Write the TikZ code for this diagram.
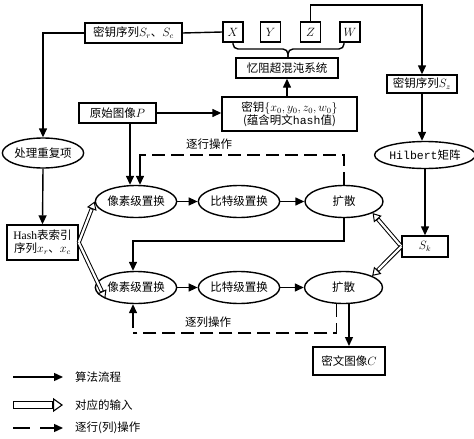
\documentclass[tikz,border=0pt]{standalone}
\usepackage{fontspec}
\setmainfont{Liberation Serif}
\setmonofont{Liberation Mono}
\newfontfamily\cjk{Noto Sans CJK SC}
\usetikzlibrary{arrows.meta,shapes.geometric}
\begin{document}
\begin{tikzpicture}[x=1pt,y=-1pt,
  every node/.style={font=\cjk\fontsize{11.5}{13}\selectfont, inner sep=1pt},
  box/.style={draw, line width=1.4pt, inner xsep=3pt, minimum height=20pt},
  sq/.style={box, minimum width=20pt, minimum height=20pt, inner sep=0pt},
  ell/.style={draw, ellipse, line width=1.4pt, minimum width=78pt, minimum height=32pt, inner sep=0pt},
  ln/.style={line width=1.4pt},
  arr/.style={ln, -{Triangle[length=9pt,width=8pt]}},
  dsh/.style={ln, dash pattern=on 13pt off 6pt},
  hol/.style={line width=4.2pt, -{Triangle[length=8pt, width=10pt, fill=white, line width=1pt]},
    postaction={draw=white, line width=2.2pt, -, shorten >=8.6pt, shorten <=0pt}},
  holbig/.style={line width=7.5pt, -{Triangle[length=10pt, width=14pt, fill=white, line width=1.1pt]},
    postaction={draw=white, line width=5.3pt, -, shorten >=10.6pt, shorten <=1.1pt}},
]
\useasboundingbox (0,0) rectangle (474,439);

% top row
\node[box, minimum width=97pt] (Sr) at (133.5,33) {密钥序列$S_r$、$S_c$};
\node[sq] (X) at (233,32) {$X$};
\node[sq] (Y) at (270.5,32) {$Y$};
\node[sq] (Z) at (310.5,32) {$Z$};
\node[sq] (W) at (350,32) {$W$};
\node[box, minimum width=102pt] (chaos) at (287,68) {忆阻超混沌系统};
\node[box, align=center, minimum width=135pt, minimum height=34pt] (key) at (289.5,114) {密钥$\{x_0,y_0,z_0,w_0\}$\\(蕴含明文{\ttfamily hash}值)};
\node[box, minimum width=77pt] (P) at (117.5,113) {原始图像$P$};
\node[box, minimum width=70pt, minimum height=18pt] (Sz) at (422,84) {密钥序列$S_z$};
\node[ell, minimum width=86pt, minimum height=27pt] (H) at (425,155) {{\ttfamily Hilbert}矩阵};
\node[box, minimum width=46pt, minimum height=21pt] (Sk) at (425,246.5) {$S_k$};
\node[ell, minimum width=77pt, minimum height=30pt] (proc) at (43,153) {处理重复项};
\node[box, align=center, minimum width=71pt, minimum height=35pt] (hash) at (42.5,242.5) {{\rmfamily Hash}表索引\\序列$x_r$、$x_c$};

% process rows
\node[ell] (p1) at (136,201.5) {像素级置换};
\node[ell] (b1) at (239,201.5) {比特级置换};
\node[ell] (e1) at (344,201.5) {扩散};
\node[ell] (p2) at (136,287.5) {像素级置换};
\node[ell] (b2) at (239,287.5) {比特级置换};
\node[ell] (e2) at (343.5,287.5) {扩散};
\node[box, line width=2pt, minimum width=72pt, minimum height=28pt] (C) at (349,361) {密文图像$C$};

\node (lr) at (209,144) {逐行操作};
\node (lc) at (208,322) {逐列操作};

% top connectors
\draw[ln] (Sr.east) -- (X.west);
\draw[arr] (Sr.west) -| (proc.north);
\draw[arr] (proc.south) -- (hash.north);
\coordinate (bm) at (288,49);
\draw[ln, rounded corners=5pt] (X.south) |- (bm) -- (bm |- chaos.north);
\draw[ln, rounded corners=5pt] ([xshift=-6pt]W.south) |- (bm) -- (bm |- chaos.north);
\draw[arr] (key.north -| chaos.south) -- (chaos.south);
\draw[arr] (P.east) -- (P.east -| key.west);
\coordinate (zc) at (422,5);
\draw[arr] (Z.north) |- (zc) -- (Sz.north);
\draw[arr] (Sz.south) -- (Sz.south |- H.north);
\draw[arr] (H.south) -- (Sk.north);

% rows
\draw[arr] ([xshift=12.5pt]P.south) -- ([xshift=12.5pt]P.south |- p1.north);
\draw[arr] (p1.east) -- (b1.west);
\draw[arr] (b1.east) -- (e1.west);
\draw[arr] (p2.east) -- (b2.west);
\draw[arr] (b2.east) -- (e2.west);

\coordinate (d1) at (140,155);
\coordinate (d1e) at (140,161);
\draw[dsh] (e1.north) |- (d1) -- (d1e);
\draw[arr] (d1e) -- (d1e |- p1.north);

\coordinate (m1) at (133,241);
\draw[arr] (e1.south) |- (m1) -- (m1 |- p2.north);

\coordinate (c2) at (133,333);
\coordinate (c2s) at (133,328);
\draw[dsh] ([xshift=-7pt]e2.south) |- (c2);
\draw[arr] (c2s) -- (c2s |- p2.south);
\draw[arr] (e2.south -| C.north) -- (C.north);

% hollow inputs
\draw[hol] (hash.east) -- (p1.west);
\draw[hol] (hash.east) -- (p2.200);
\draw[hol] (Sk.west) -- (e1.-22);
\draw[hol] (Sk.west) -- (e2.22);

% legend
\coordinate (la1) at (13,377); \coordinate (la2) at (63,377);
\draw[arr] (la1) -- (la2);
\node[anchor=west] (lt1) at (74,377) {算法流程};
\coordinate (lb1) at (13,405); \coordinate (lb2) at (63,405);
\draw[holbig] (lb1) -- (lb2);
\node[anchor=west] (lt2) at (74,405) {对应的输入};
\coordinate (lc1) at (13,428); \coordinate (lc2) at (30,428);
\coordinate (lc3) at (40,428); \coordinate (lc4) at (63,428);
\draw[ln] (lc1) -- (lc2);
\draw[arr] (lc3) -- (lc4);
\node[anchor=west] (lt3) at (74,428) {逐行(列)操作};
\end{tikzpicture}
\end{document}
